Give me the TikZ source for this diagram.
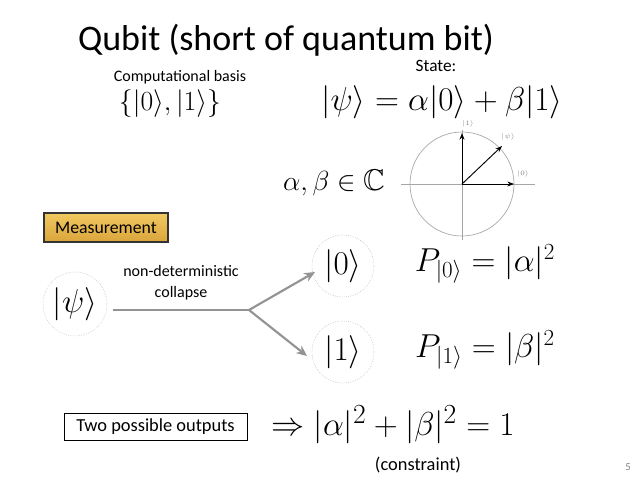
\documentclass[tikz,border=0pt]{standalone}
\usepackage{fontspec}
\usepackage{amsmath,amssymb}
\setmainfont{Carlito}
\usetikzlibrary{arrows.meta}
\definecolor{goldA}{HTML}{F2C862}
\definecolor{goldB}{HTML}{D9A53A}
\begin{document}
\begin{tikzpicture}[x=0.75pt,y=-0.75pt,
  txt/.style={inner sep=0pt},
  dotc/.style={draw=gray!60,densely dotted,circle},
  garrow/.style={draw=gray!85,line width=1.6pt,-{Stealth[length=8pt,width=7pt]}}]
\useasboundingbox (0,0) rectangle (638,478);
\node[txt] (title) at (286,40) {\fontsize{27}{30}\selectfont Qubit (short of quantum bit)};
\node[txt] (cb) at (180,77) {\fontsize{12}{14}\selectfont Computational basis};
\node[txt] (basis) at (170,104) {\fontsize{21.5}{24}\selectfont $\{|0\rangle,|1\rangle\}$};
\node[txt] (st) at (436,66) {\fontsize{13}{15}\selectfont State:};
\node[txt] (eq) at (442,102) {\fontsize{26}{29}\selectfont $|\psi\rangle=\alpha|0\rangle+\beta|1\rangle$};
\node[txt] (ab) at (334,183) {\fontsize{22.5}{25}\selectfont $\alpha,\beta\in\mathbb{C}$};
% circle
\coordinate (o) at (462,184);
\draw[gray!70,line width=0.5pt] (o) circle (52);
\coordinate (xl) at (401,184); \coordinate (xr) at (535,184);
\coordinate (yt) at (462,130); \coordinate (yb) at (462,240);
\draw[gray!70,line width=0.4pt] (xl) -- (xr);
\draw[gray!70,line width=0.4pt] (yt) -- (yb);
\coordinate (t1) at (462,133); \coordinate (t0) at (514,184); \coordinate (tp) at (502,146);
\draw[line width=0.7pt,-{Stealth[length=5pt]}] (o) -- (t1);
\draw[line width=0.7pt,-{Stealth[length=5pt]}] (o) -- (t0);
\draw[line width=0.7pt,-{Stealth[length=5pt]}] (o) -- (tp);
\node[txt,gray] (l1) at (468,124) {\fontsize{5}{6}\selectfont $|1\rangle$};
\node[txt,gray] (lp) at (508,137) {\fontsize{5}{6}\selectfont $|\psi\rangle$};
\node[txt,gray] (l0) at (523,174) {\fontsize{5}{6}\selectfont $|0\rangle$};
% Measurement
\node[draw=black!80,line width=0.8pt,top color=goldA,bottom color=goldB,
  minimum width=124*0.75pt,minimum height=29*0.75pt,inner sep=0pt] (meas) at (106,227.5)
  {\fontsize{13.3}{15}\selectfont Measurement};
\node[dotc,minimum size=64*0.75pt,inner sep=0pt] (psi) at (75,304) {\fontsize{25}{28}\selectfont $|\psi\rangle$};
\node[dotc,minimum size=62*0.75pt,inner sep=0pt] (k0) at (343,266) {\fontsize{29}{32}\selectfont $|0\rangle$};
\node[dotc,minimum size=62*0.75pt,inner sep=0pt] (k1) at (343,352) {\fontsize{29}{32}\selectfont $|1\rangle$};
\coordinate (s) at (113,310); \coordinate (br) at (249,310);
\coordinate (e0) at (315,272); \coordinate (e1) at (307,356);
\draw[gray!85,line width=1.6pt] (s) -- (br);
\draw[garrow] (br) -- (e0);
\draw[garrow] (br) -- (e1);
\node[txt,align=center,font=\fontsize{12}{16}\selectfont] (nd) at (181,283) {non-deterministic\\collapse};
\node[txt] (p0) at (485,264) {\fontsize{26}{29}\selectfont $P_{|0\rangle}=|\alpha|^2$};
\node[txt] (p1) at (485,350) {\fontsize{26}{29}\selectfont $P_{|1\rangle}=|\beta|^2$};
\node[draw,line width=0.6pt,minimum width=183*0.75pt,minimum height=27*0.75pt,inner sep=0pt] (two) at (155.5,426.5)
  {\fontsize{13.8}{16}\selectfont Two possible outputs};
\node[txt] (norm) at (393,425) {\fontsize{30}{34}\selectfont $\Rightarrow|\alpha|^2+|\beta|^2=1$};
\node[txt] (con) at (418,465) {\fontsize{13.8}{16}\selectfont (constraint)};
\node[txt,gray] (pg) at (628,467) {\fontsize{8}{9}\selectfont 5};
\end{tikzpicture}
\end{document}
